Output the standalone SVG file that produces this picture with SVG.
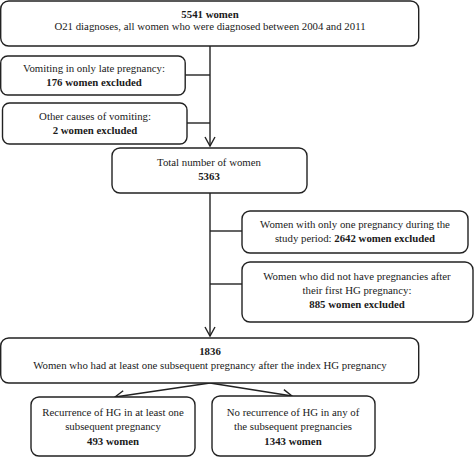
<svg xmlns="http://www.w3.org/2000/svg" width="474" height="458" viewBox="0 0 474 458">
<style>
.box{fill:#fff;stroke:#222;stroke-width:1.4}
.t{font-family:"Liberation Serif","Times New Roman",serif;font-size:10.8px;fill:#1a1a1a;text-anchor:middle}
.b{font-weight:bold}
.ln{stroke:#222;stroke-width:1.4;fill:none}
</style>
<defs>
<marker id="ah" markerWidth="12" markerHeight="12" refX="10" refY="6" orient="auto" markerUnits="userSpaceOnUse">
<path d="M1,1 L10,6 L1,11" fill="none" stroke="#222" stroke-width="1.4"/>
</marker>
</defs>
<rect x="0" y="0" width="474" height="458" fill="#fff"/>
<g id="connectors">
<line class="ln" x1="210" y1="46" x2="210" y2="146" marker-end="url(#ah)"/>
<line class="ln" x1="185" y1="75" x2="210" y2="75"/>
<line class="ln" x1="187" y1="123" x2="210" y2="123"/>
<line class="ln" x1="210" y1="193" x2="210" y2="336" marker-end="url(#ah)"/>
<line class="ln" x1="210" y1="231" x2="242" y2="231"/>
<line class="ln" x1="210" y1="284" x2="242" y2="284"/>
<line class="ln" x1="210" y1="383" x2="115" y2="397" marker-end="url(#ah)"/>
<line class="ln" x1="210" y1="383" x2="292" y2="396" marker-end="url(#ah)"/>
</g>
<g id="n1">
<rect class="box" x="0.7" y="1" width="418" height="45" rx="8"/>
<text class="t b" x="210" y="18">5541 women</text>
<text class="t" x="210" y="30">O21 diagnoses, all women who were diagnosed between 2004 and 2011</text>
</g>
<g id="n2">
<rect class="box" x="0.7" y="56" width="184.5" height="39" rx="7"/>
<text class="t" x="94" y="72">Vomiting in only late pregnancy:</text>
<text class="t b" x="94" y="86">176 women excluded</text>
</g>
<g id="n3">
<rect class="box" x="2.5" y="103" width="184.5" height="41" rx="7"/>
<text class="t" x="95" y="120">Other causes of vomiting:</text>
<text class="t b" x="95" y="134">2 women excluded</text>
</g>
<g id="n4">
<rect class="box" x="112" y="148" width="195" height="45" rx="8"/>
<text class="t" x="209" y="166">Total number of women</text>
<text class="t b" x="209" y="180">5363</text>
</g>
<g id="n5">
<rect class="box" x="242" y="211" width="226" height="42" rx="8"/>
<text class="t" x="355" y="228">Women with only one pregnancy during the</text>
<text class="t" x="355" y="242">study period: <tspan class="b">2642 women excluded</tspan></text>
</g>
<g id="n6">
<rect class="box" x="242" y="262" width="231" height="60" rx="8"/>
<text class="t" x="357" y="280">Women who did not have pregnancies after</text>
<text class="t" x="357" y="294">their first HG pregnancy:</text>
<text class="t b" x="357" y="308">885 women excluded</text>
</g>
<g id="n7">
<rect class="box" x="0.7" y="338" width="418" height="45" rx="8"/>
<text class="t b" x="210" y="355">1836</text>
<text class="t" x="210" y="369">Women who had at least one subsequent pregnancy after the index HG pregnancy</text>
</g>
<g id="n8">
<rect class="box" x="31" y="397" width="164" height="59" rx="8"/>
<text class="t" x="113" y="416">Recurrence of HG in at least one</text>
<text class="t" x="113" y="430">subsequent pregnancy</text>
<text class="t b" x="113" y="445">493 women</text>
</g>
<g id="n9">
<rect class="box" x="212" y="396" width="163" height="60" rx="8"/>
<text class="t" x="293" y="416">No recurrence of HG in any of</text>
<text class="t" x="293" y="430">the subsequent pregnancies</text>
<text class="t b" x="293" y="445">1343 women</text>
</g>
</svg>
